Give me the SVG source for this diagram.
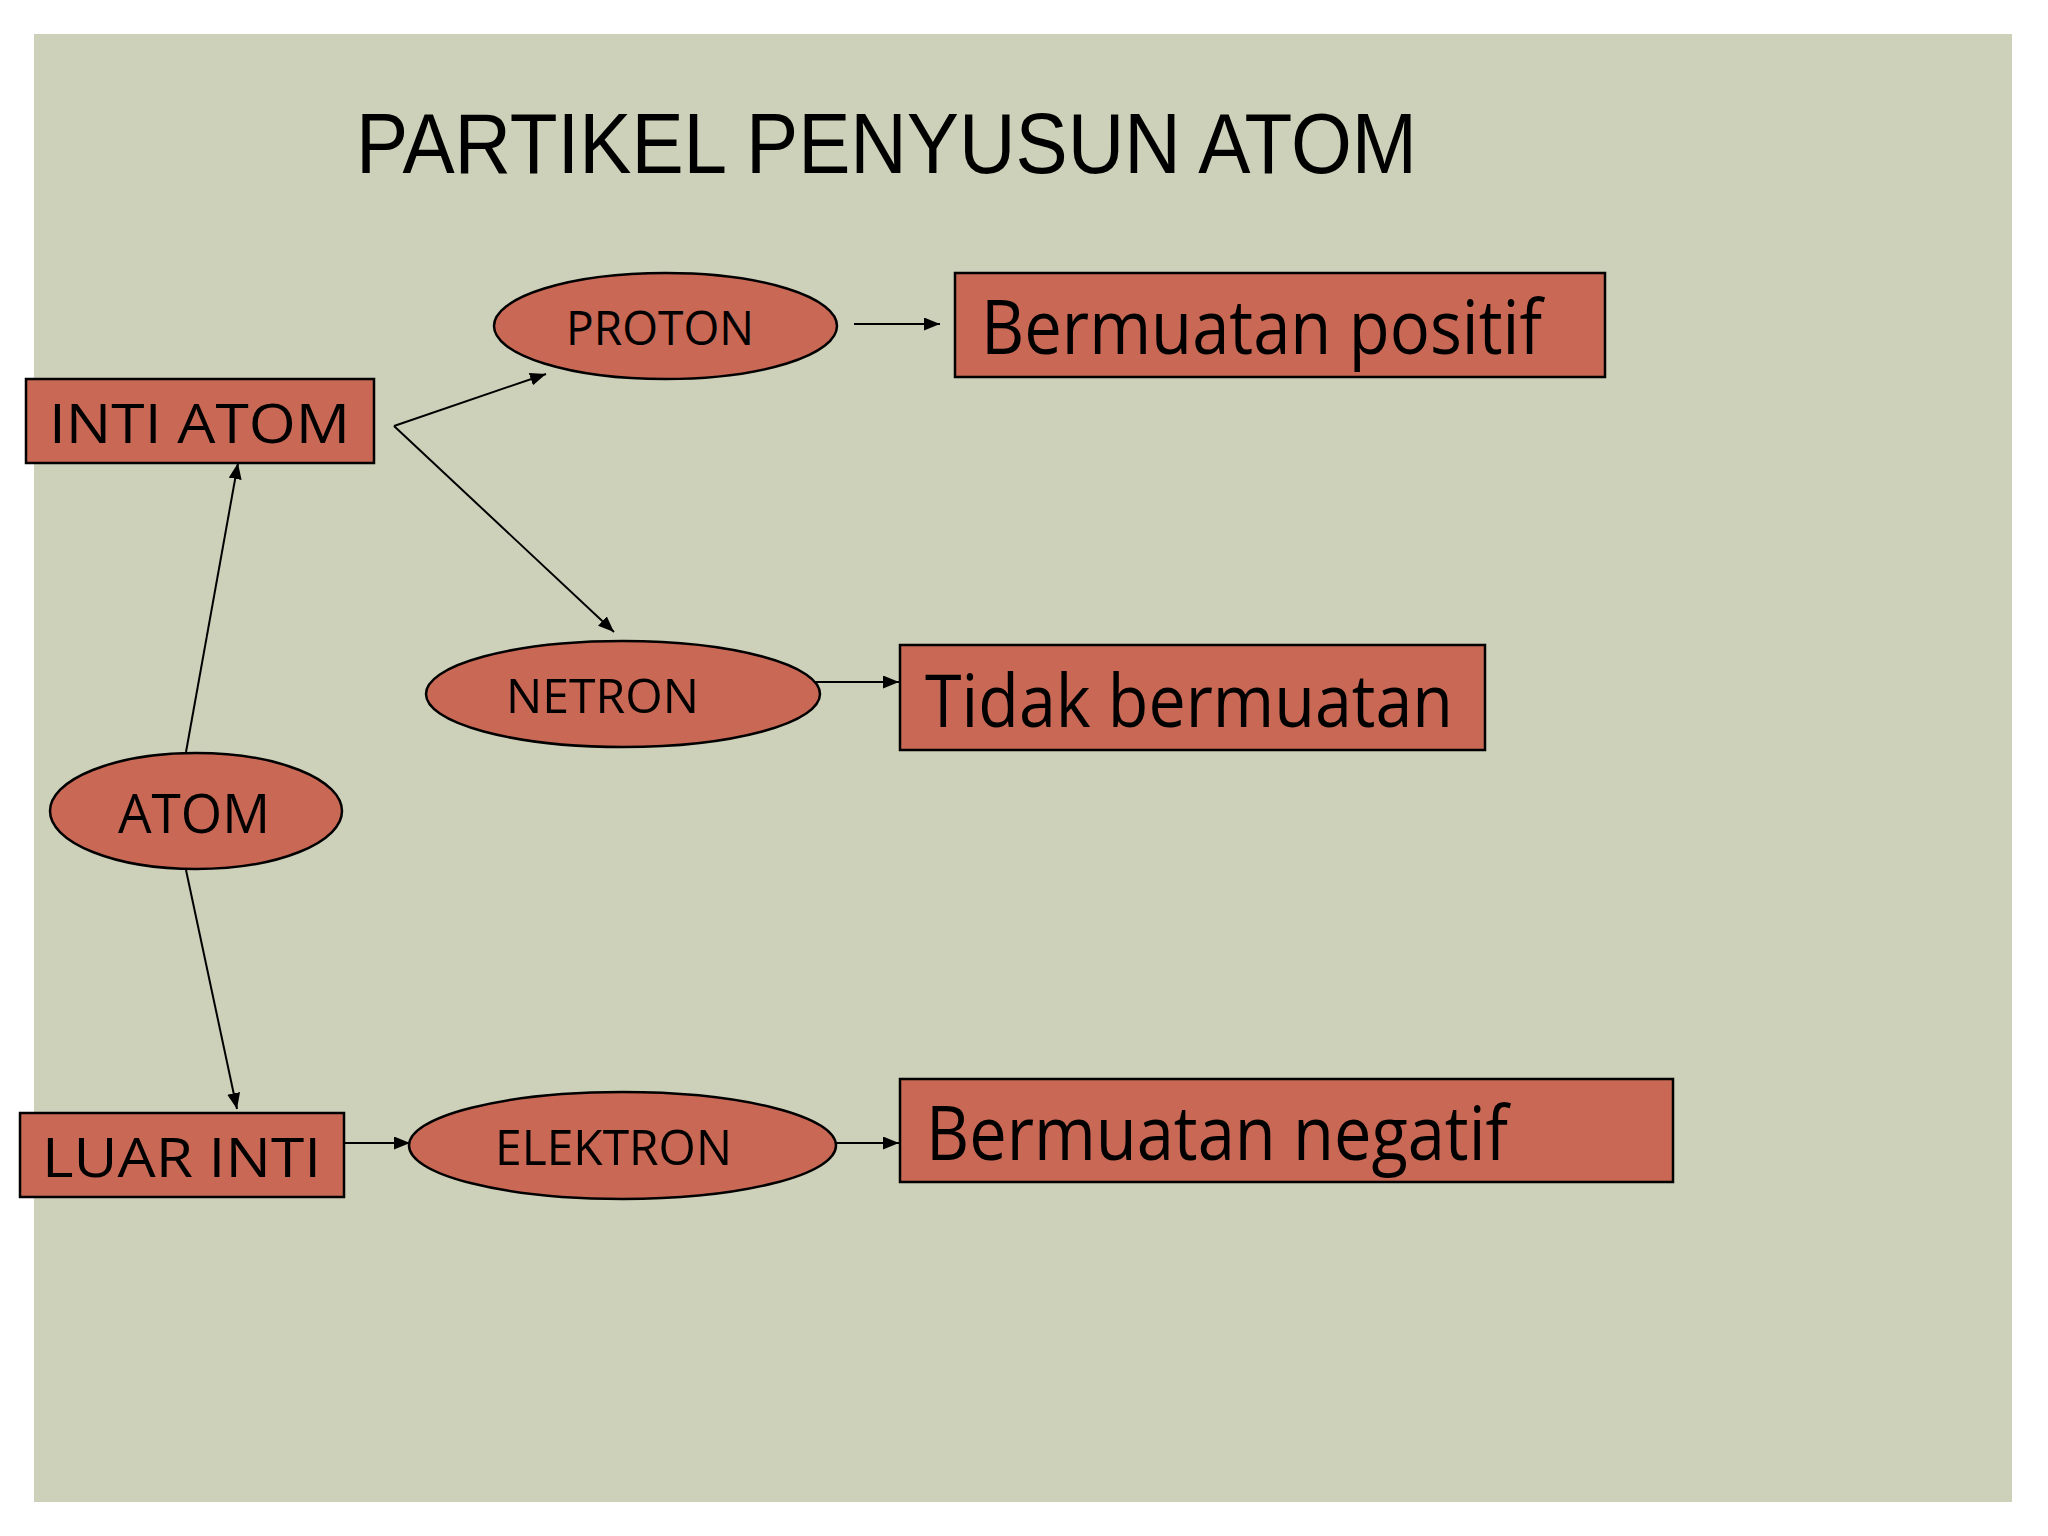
<svg xmlns="http://www.w3.org/2000/svg" width="2048" height="1536" viewBox="0 0 2048 1536">
  <defs>
    <marker id="arr" markerWidth="16" markerHeight="13" refX="16" refY="6.5" orient="auto" markerUnits="userSpaceOnUse" viewBox="0 0 16 13">
      <path d="M0,0 L16,6.5 L0,13 Z" fill="#000"/>
    </marker>
    <style>
      .node { fill: #C86855; stroke: #000; stroke-width: 2.5; }
      .lbl { font-family: "Open Sans", "DejaVu Sans", sans-serif; fill: #000; }
      .conn { stroke: #000; stroke-width: 2; fill: none; }
    </style>
  </defs>
  <rect x="0" y="0" width="2048" height="1536" fill="#FFFFFF"/>
  <rect x="34" y="34" width="1978" height="1468" fill="#CDD1B9"/>

  <text x="356" y="173" font-family="Liberation Sans, Arial, sans-serif" font-size="85" fill="#000" textLength="1061" lengthAdjust="spacingAndGlyphs">PARTIKEL PENYUSUN ATOM</text>

  <g id="connectors">
    <line class="conn" x1="186" y1="752" x2="238" y2="463" marker-end="url(#arr)"/>
    <line class="conn" x1="186" y1="870" x2="237" y2="1109" marker-end="url(#arr)"/>
    <line class="conn" x1="394" y1="426" x2="546" y2="374" marker-end="url(#arr)"/>
    <line class="conn" x1="394" y1="426" x2="614" y2="632" marker-end="url(#arr)"/>
    <line class="conn" x1="854" y1="324" x2="940" y2="324" marker-end="url(#arr)"/>
    <line class="conn" x1="815" y1="682" x2="899" y2="682" marker-end="url(#arr)"/>
    <line class="conn" x1="342" y1="1143" x2="410" y2="1143" marker-end="url(#arr)"/>
    <line class="conn" x1="830" y1="1143" x2="899" y2="1143" marker-end="url(#arr)"/>
  </g>

  <g id="atom">
    <ellipse class="node" cx="196" cy="811" rx="146" ry="58"/>
    <text class="lbl" x="118" y="833" font-size="54" textLength="152" lengthAdjust="spacingAndGlyphs">ATOM</text>
  </g>
  <g id="inti-atom">
    <rect class="node" x="26" y="379" width="348" height="84"/>
    <text class="lbl" x="49" y="443" font-size="55" textLength="301" lengthAdjust="spacingAndGlyphs">INTI ATOM</text>
  </g>
  <g id="luar-inti">
    <rect class="node" x="20" y="1113" width="324" height="84"/>
    <text class="lbl" x="42" y="1177" font-size="55" textLength="279" lengthAdjust="spacingAndGlyphs">LUAR INTI</text>
  </g>
  <g id="proton">
    <ellipse class="node" cx="665.5" cy="326" rx="171.5" ry="53"/>
    <text class="lbl" x="566" y="345" font-size="47" textLength="188" lengthAdjust="spacingAndGlyphs">PROTON</text>
  </g>
  <g id="netron">
    <ellipse class="node" cx="623" cy="694" rx="197" ry="53"/>
    <text class="lbl" x="506" y="713" font-size="48" textLength="193" lengthAdjust="spacingAndGlyphs">NETRON</text>
  </g>
  <g id="elektron">
    <ellipse class="node" cx="622.5" cy="1145.5" rx="213.5" ry="53.5"/>
    <text class="lbl" x="495" y="1165" font-size="49" textLength="237" lengthAdjust="spacingAndGlyphs">ELEKTRON</text>
  </g>
  <g id="bermuatan-positif">
    <rect class="node" x="955" y="273" width="650" height="104"/>
    <text class="lbl" x="981" y="354" font-size="75" textLength="561" lengthAdjust="spacingAndGlyphs">Bermuatan positif</text>
  </g>
  <g id="tidak-bermuatan">
    <rect class="node" x="900" y="645" width="585" height="105"/>
    <text class="lbl" x="925" y="727" font-size="74" textLength="528" lengthAdjust="spacingAndGlyphs">Tidak bermuatan</text>
  </g>
  <g id="bermuatan-negatif">
    <rect class="node" x="900" y="1079" width="773" height="103"/>
    <text class="lbl" x="926" y="1160" font-size="75" textLength="582" lengthAdjust="spacingAndGlyphs">Bermuatan negatif</text>
  </g>
</svg>
